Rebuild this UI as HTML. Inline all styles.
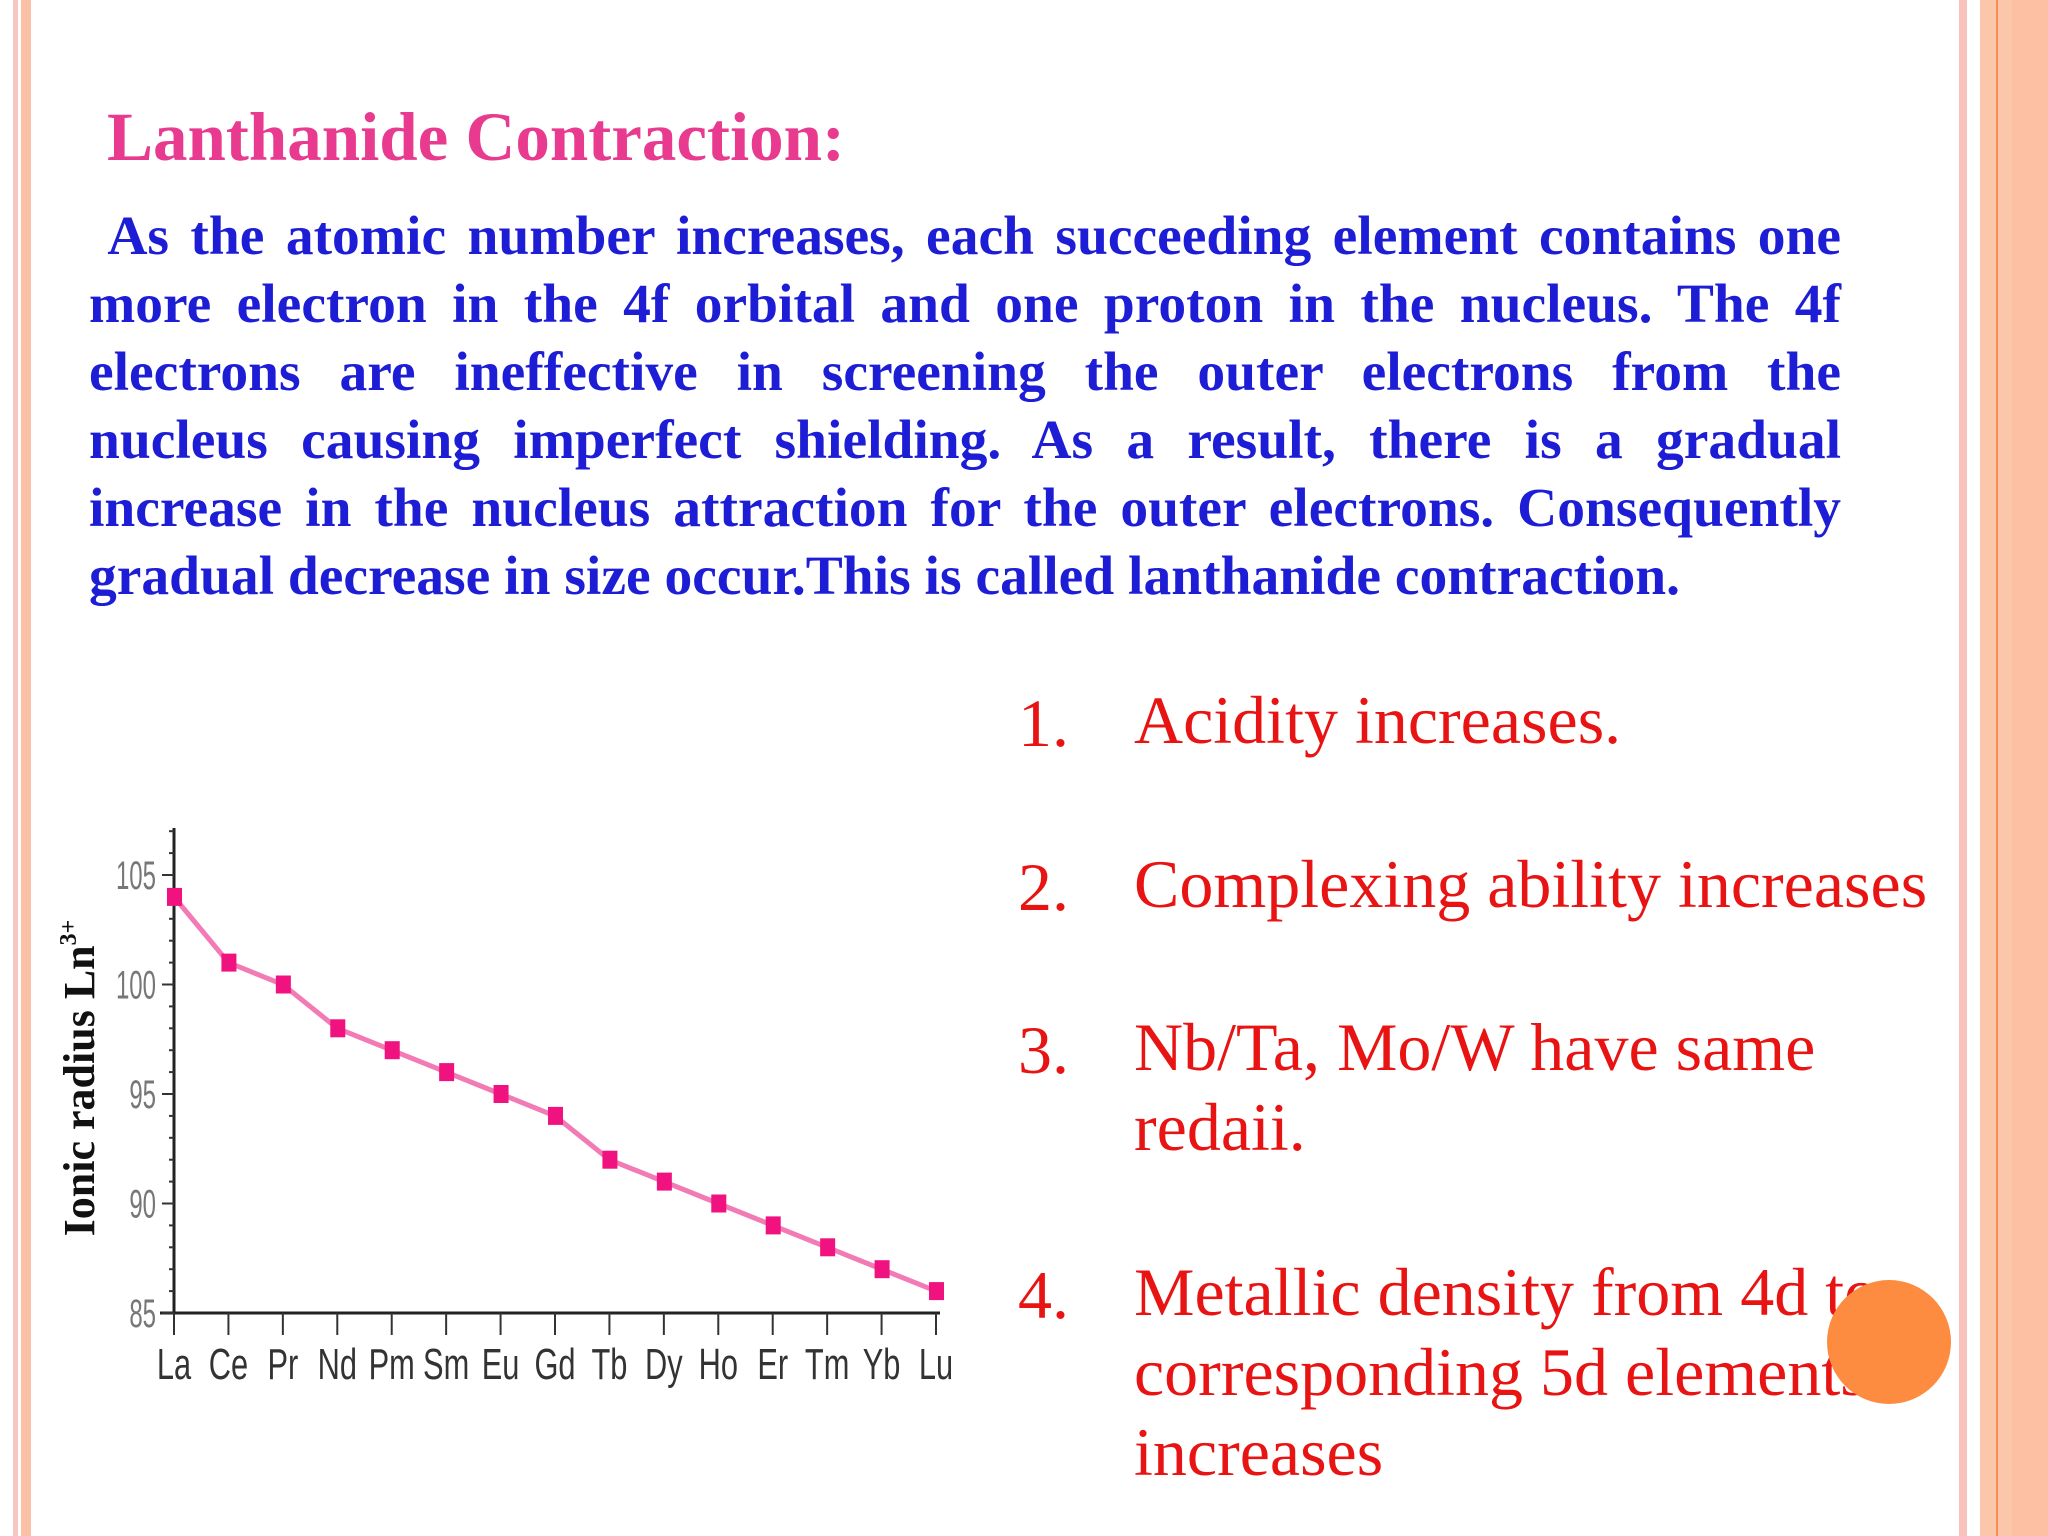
<!DOCTYPE html>
<html><head><meta charset="utf-8"><style>
body{margin:0;width:2048px;height:1536px;background:#fff;position:relative;overflow:hidden;font-family:"Liberation Serif",serif}
.s{position:absolute;top:0;height:1536px}
#title{position:absolute;left:107px;top:103px;font-size:69px;font-weight:bold;color:#e83a8e;line-height:1}
#para{position:absolute;left:89px;top:203px;width:1752px;font-size:55.5px;font-weight:bold;color:#1d1dd6;line-height:68px}
#para div{text-align:justify;text-align-last:justify;white-space:nowrap}
#para div.last{text-align:left;text-align-last:left}
.li{position:absolute;font-size:68px;color:#e81414;line-height:80px}
.n{position:absolute;left:1018px;font-size:68px;color:#e81414}
</style></head><body>
<div class="s" style="left:13px;width:5px;background:#f8c6c0"></div>
<div class="s" style="left:21px;width:10px;background:#fcc0a6"></div>
<div class="s" style="left:1959px;width:8px;background:#f9c3bd"></div>
<div class="s" style="left:1980px;width:16px;background:#fcc6ab"></div>
<div class="s" style="left:1996px;width:2px;background:#f98e52"></div>
<div class="s" style="left:1998px;width:14px;background:#fcc6ab"></div>
<div class="s" style="left:2012px;width:36px;background:#fdc0a2"></div>
<div id="title">Lanthanide Contraction:</div>
<div id="para">
<div style="white-space:pre"> As the atomic number increases, each succeeding element contains one</div>
<div>more electron in the 4f orbital and one proton in the nucleus. The 4f</div>
<div>electrons are ineffective in screening the outer electrons from the</div>
<div>nucleus causing imperfect shielding. As a result, there is a gradual</div>
<div>increase in the nucleus attraction for the outer electrons. Consequently</div>
<div class="last">gradual decrease in size occur.This is called lanthanide contraction.</div>
</div>
<div><div class="n" style="top:684px">1.</div><div class="li" style="left:1134px;top:680px">Acidity increases.</div></div>
<div><div class="n" style="top:848px">2.</div><div class="li" style="left:1134px;top:844px;white-space:nowrap">Complexing ability increases</div></div>
<div><div class="n" style="top:1011px">3.</div><div class="li" style="left:1134px;top:1007px">Nb/Ta, Mo/W have same<br>redaii.</div></div>
<div><div class="n" style="top:1256px">4.</div><div class="li" style="left:1134px;top:1252px;white-space:nowrap">Metallic density from 4d to<br>corresponding 5d elements<br>increases</div></div>
<div style="position:absolute;left:1827px;top:1280px;width:124px;height:124px;border-radius:50%;background:#fd8b40"></div>
<svg id="chart" style="position:absolute;left:0;top:0" width="2048" height="1536"></svg>
<script>
const categories=["La","Ce","Pr","Nd","Pm","Sm","Eu","Gd","Tb","Dy","Ho","Er","Tm","Yb","Lu"];
const radii=[104,101,100,98,97,96,95,94,92,91,90,89,88,87,86];
const yTicks=[85,90,95,100,105];
const svg=document.getElementById('chart');
const NS='http://www.w3.org/2000/svg';
const x0=174,x1=936,yBase=1313,perUnit=21.9;
const xs=i=>x0+i*(x1-x0)/(categories.length-1);
const ys=v=>yBase-(v-85)*perUnit;
function mk(t,a){const e=document.createElementNS(NS,t);for(const k in a)e.setAttribute(k,a[k]);svg.appendChild(e);return e;}
let e=mk('line',{x1:x0,y1:828,x2:x0,y2:yBase,stroke:'#222','stroke-width':3});

e=mk('line',{x1:x0-14,y1:yBase,x2:x1+4,y2:yBase,stroke:'#222','stroke-width':3});

for(let v=85;v<=107;v++){e=mk('line',{x1:x0-(v%5?5:12),y1:ys(v),x2:x0,y2:ys(v),stroke:'#333','stroke-width':2});
}
yTicks.forEach(v=>{e=mk('text',{x:x0-18,y:ys(v)+14,'text-anchor':'end','font-size':40,fill:'#777','font-family':'Liberation Sans Narrow, Liberation Sans, sans-serif',transform:`translate(${x0-18},0) scale(0.6,1) translate(${-(x0-18)},0)`});
e.textContent=v;});
categories.forEach((c,i)=>{e=mk('line',{x1:xs(i),y1:yBase,x2:xs(i),y2:yBase+22,stroke:'#333','stroke-width':2});

e=mk('text',{x:xs(i),y:yBase+66,'text-anchor':'middle','font-size':44,fill:'#333','font-family':'Liberation Sans Narrow, Liberation Sans, sans-serif',transform:`translate(${xs(i)},0) scale(0.7,1) translate(${-xs(i)},0)`});
e.textContent=c;});
e=mk('polyline',{points:radii.map((v,i)=>xs(i)+','+ys(v)).join(' '),fill:'none',stroke:'#f27bb5','stroke-width':5});

radii.forEach((v,i)=>{e=mk('rect',{x:xs(i)-7,y:ys(v)-9,width:15,height:18,fill:'#f0127e'});
});
e=mk('text',{x:0,y:0,'font-size':44,'font-weight':'bold',fill:'#111','text-anchor':'middle','font-family':'Liberation Serif, serif',transform:'translate(94,1078) rotate(-90)'});
e.innerHTML='Ionic radius Ln<tspan dy="-18" font-size="24">3+</tspan>';

</script>
</body></html>
